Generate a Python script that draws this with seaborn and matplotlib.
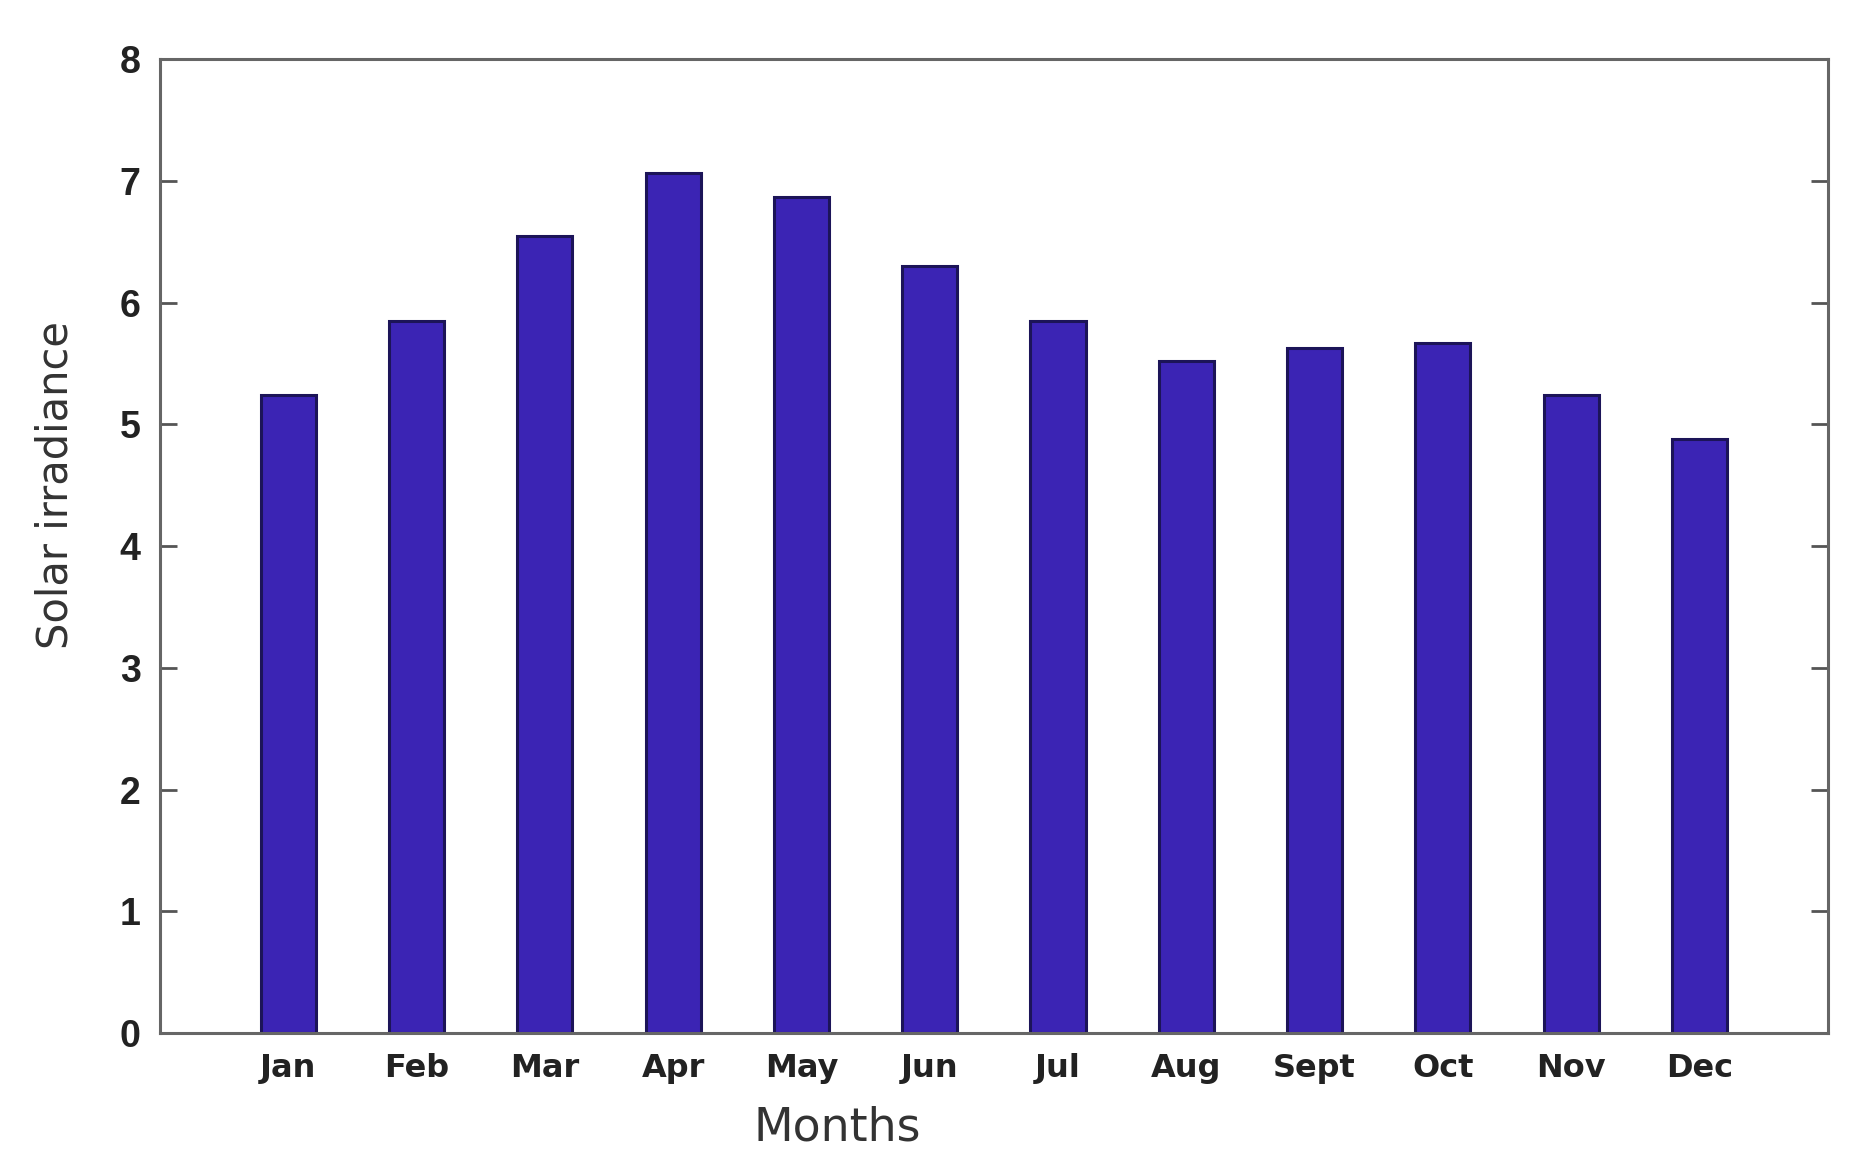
import matplotlib
matplotlib.use('Agg')
import matplotlib.pyplot as plt
import seaborn as sns
import pandas as pd

months = ['Jan', 'Feb', 'Mar', 'Apr', 'May', 'Jun', 'Jul', 'Aug', 'Sept', 'Oct', 'Nov', 'Dec']
irradiance = [5.24, 5.85, 6.55, 7.06, 6.87, 6.30, 5.85, 5.52, 5.63, 5.67, 5.24, 4.88]
yticks = [0, 1, 2, 3, 4, 5, 6, 7, 8]

df = pd.DataFrame({'Months': months, 'Solar irradiance': irradiance})

sns.set_style('white')
plt.rcParams['font.family'] = ['DejaVu Sans']

fig = plt.figure(figsize=(18.65, 11.7), dpi=100)
ax = fig.add_axes([0.0858, 0.117, 0.8942, 0.8326])

sns.barplot(data=df, x='Months', y='Solar irradiance', color='#3b24b4', saturation=1,
            width=0.43, edgecolor='#1c1458', linewidth=2.2, ax=ax)

ax.set_xlim(-1, 12)
ax.set_ylim(0, 8)
ax.set_yticks(yticks)
ax.set_yticklabels([str(t) for t in yticks], fontsize=27, fontweight='bold',
                   family='Liberation Sans', color='#222222')
ax.set_xticks(range(len(months)))
ax.set_xticklabels(months, fontsize=23, fontweight='bold', color='#222222')

ax.tick_params(axis='y', direction='in', left=True, right=True, length=12, width=2,
               color='#555555', pad=14)
ax.tick_params(axis='x', length=0, pad=14)

for s in ax.spines.values():
    s.set_visible(True)
    s.set_color('#666666')
    s.set_linewidth(2.2)

ax.set_xlabel('Months', fontsize=33, color='#333333')
ax.set_ylabel('Solar irradiance', fontsize=30, color='#333333')
ax.xaxis.set_label_coords(0.406, -0.074)
ax.yaxis.set_label_coords(-0.05, 0.563)

fig.savefig('out.png', dpi=100, facecolor='white')
